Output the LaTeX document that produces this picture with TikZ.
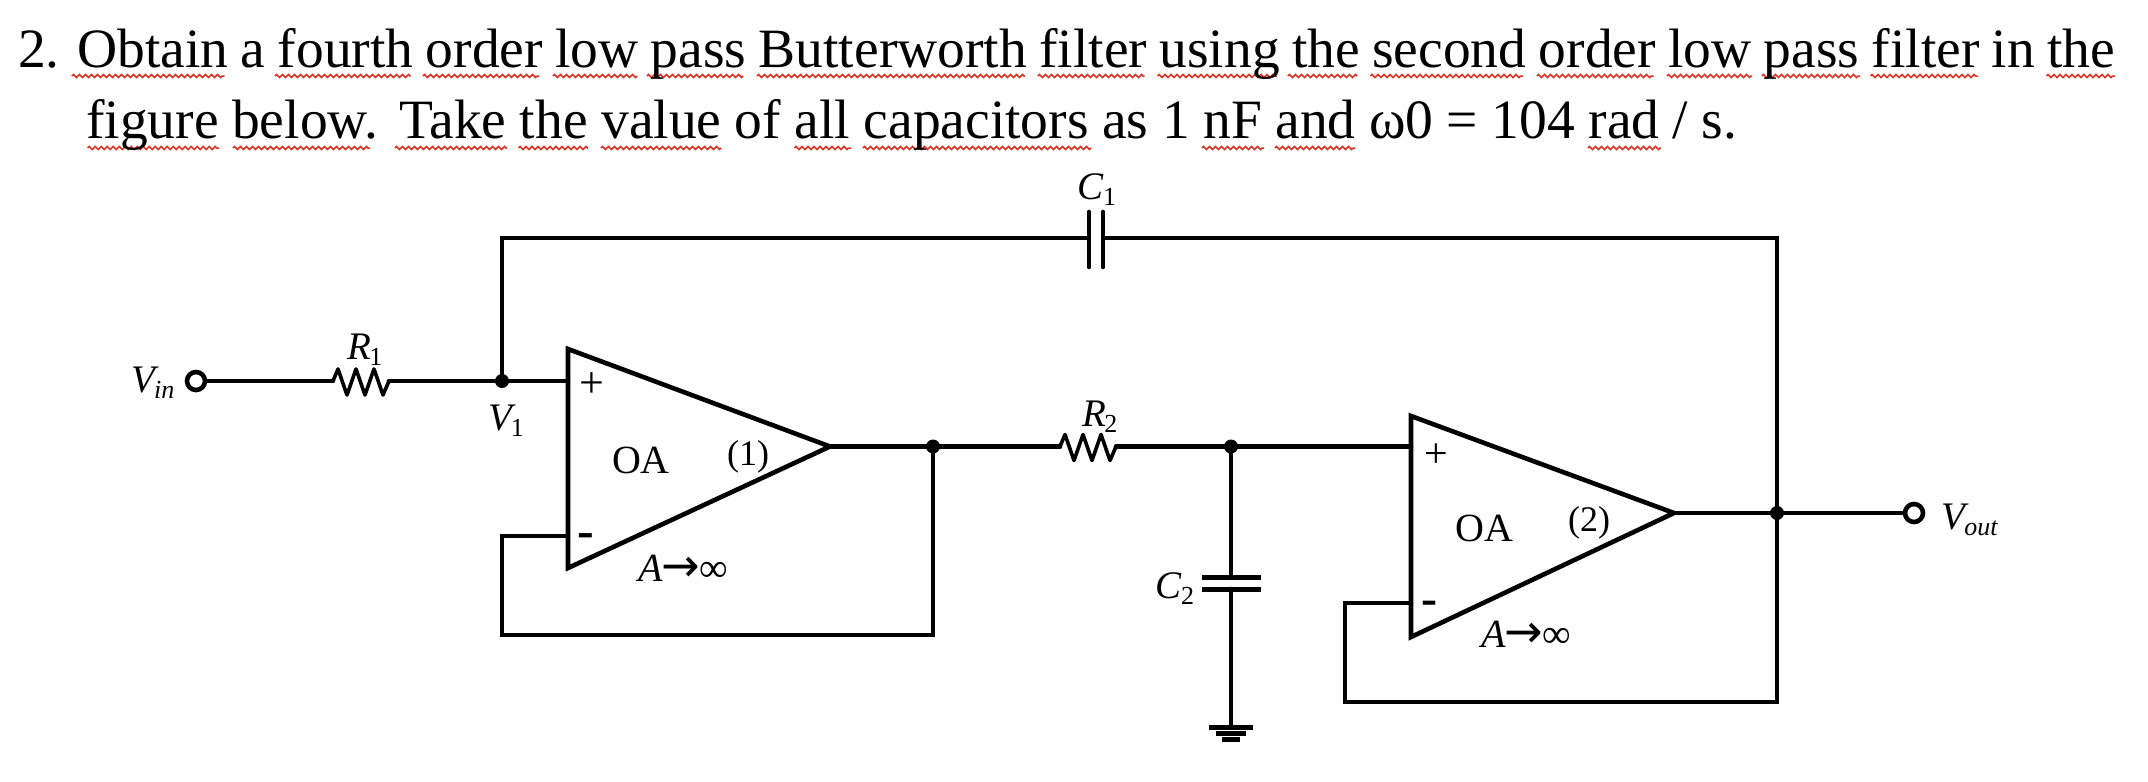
\documentclass[tikz,border=0pt]{standalone}
\usepackage{fontspec}
\setmainfont{Liberation Serif}
\newfontfamily\symfont{DejaVu Sans}
\usetikzlibrary{decorations.pathmorphing}
\definecolor{spell}{RGB}{225,50,35}
\newcommand{\lblsub}[3][-2pt]{\textit{#2}\kern#1\raisebox{-6pt}{\fontsize{26}{26}\selectfont #3}}
\newcommand{\gainlab}{\textit{A}\kern-1pt{\symfont\fontsize{46}{46}\selectfont →}\kern-1pt∞}
\tikzset{
  x=1pt,y=-1pt,
  wire/.style={line width=4.6pt,line cap=round,line join=miter},
  zigwire/.style={line width=3.6pt,line cap=round,line join=round},
  barwire/.style={line width=5pt,line cap=butt},
  dotnode/.style={circle,fill=black,inner sep=0pt,minimum size=14pt},
  term/.style={circle,draw=black,fill=white,line width=4.6pt,inner sep=0pt,minimum size=18pt},
  headline/.style={inner sep=0pt,anchor=base west,font=\fontsize{55.5}{55.5}\selectfont},
  lab/.style={inner sep=0pt,font=\fontsize{39}{39}\selectfont},
  squig/.style={draw=spell,line width=1.5pt,decorate,decoration={zigzag,amplitude=1.6pt,segment length=6pt}}
}
\begin{document}
\begin{tikzpicture}
\useasboundingbox (0,0) rectangle (2148,782);
\fill[white] (0,0) rectangle (2148,782);
% spelling marks
\foreach \a/\b in {72/224.5,275/410.5,423/539,553/637,647/743,757/1025,1038/1144.5,1157.5/1277,1288/1357,1370.5/1523,1537/1653.5,1667/1752,1762/1860,1870.5/1978,2046.5/2115}
  \draw[squig] (\a,76) -- (\b,76);
\foreach \a/\b in {87.7/219,233/370,395/507,518.5/588,601/721,794.5/851,863/1091,1202/1264,1275/1355,1588/1661}
  \draw[squig] (\a,148) -- (\b,148);
% headline
\node[headline] (l1) at (18,67) {\hbox to 2097pt{\spaceskip=12pt plus 12pt minus 10pt 2. Obtain a fourth order low pass Butterworth filter using the second order low pass filter in the}};
\node[headline] (l2) at (86,138) {\hbox to 1651pt{\spaceskip=12pt plus 12pt minus 10pt figure below. Take the value of all capacitors as 1 nF and ω0 = 104 rad / s.}};
% coordinates
\coordinate (vin) at (196,381);
\coordinate (j1) at (502,381);
\coordinate (r1a) at (333,381); \coordinate (r1b) at (389,381);
\coordinate (a1l) at (568,349); \coordinate (a1b) at (568,568); \coordinate (a1o) at (830,446.5);
\coordinate (j2) at (933,446.5);
\coordinate (r2a) at (1060,446.5); \coordinate (r2b) at (1116,446.5);
\coordinate (j3) at (1231,446.5);
\coordinate (a2t) at (1411,416); \coordinate (a2b) at (1411,637); \coordinate (a2o) at (1674,513);
\coordinate (j4) at (1777,513);
\coordinate (vout) at (1914,513);
% op amps
\draw[wire] (a1l) -- (a1o) -- (a1b) -- cycle;
\draw[wire] (a2t) -- (a2o) -- (a2b) -- cycle;
% input
\draw[wire] (vin) -- (r1a);
\draw[zigwire] (r1a) -- ++(5,-12) -- ++(9,26) -- ++(9,-26) -- ++(9,26) -- ++(9,-26) -- ++(9,26) -- (r1b);
\draw[wire] (r1b) -- (568,381);
% C1 loop
\draw[wire,line cap=butt] (j1) -- (502,238) -- (1089,238);
\draw[wire,line cap=butt] (1103,238) -- (1777,238) -- (j4);
\draw[wire] (1089,212) -- (1089,267);
\draw[wire] (1103,212) -- (1103,267);
% opamp 1 feedback
\draw[wire] (a1o) -- (r2a);
\draw[zigwire] (r2a) -- ++(5,-12) -- ++(9,26) -- ++(9,-26) -- ++(9,26) -- ++(9,-26) -- ++(9,26) -- (r2b);
\draw[wire] (r2b) -- (1411,446.5);
\draw[wire] (j2) -- (933,635) -- (502,635) -- (502,536) -- (568,536);
% C2 branch
\draw[wire] (j3) -- (1231,577);
\draw[wire] (1231,589) -- (1231,727);
\draw[barwire] (1202,577) -- (1261,577);
\draw[barwire] (1202,589) -- (1261,589);
\draw[barwire] (1209,727) -- (1253,727);
\draw[barwire] (1216,733.5) -- (1246,733.5);
\draw[barwire] (1222,739.5) -- (1240,739.5);
% opamp 2
\draw[wire] (a2o) -- (vout);
\draw[wire] (j4) -- (1777,702) -- (1345,702) -- (1345,603) -- (1411,603);
% dots & terminals
\node[dotnode] (d1) at (j1) {};
\node[dotnode] (d2) at (j2) {};
\node[dotnode] (d3) at (j3) {};
\node[dotnode] (d4) at (j4) {};
\node[term] (tin) at (vin) {};
\node[term] (tout) at (vout) {};
% labels
\node[lab] at (153,383) {\lblsub[-5pt]{V}{\textit{in}}};
\node[lab] at (365,350) {\lblsub[-2pt]{R}{1}};
\node[lab] at (506,421) {\lblsub[-5pt]{V}{1}};
\node[lab] at (1100,417) {\lblsub[-2pt]{R}{2}};
\node[lab] at (1097,190) {\lblsub[-1pt]{C}{1}};
\node[lab] at (1175,589) {\lblsub[-1pt]{C}{2}};
\node[lab] at (1970,520) {\lblsub[-5pt]{V}{\textit{out}}};
\node[lab,font=\fontsize{40}{40}\selectfont] at (641,460) {OA};
\node[lab,font=\fontsize{40}{40}\selectfont] at (1484,528) {OA};
\node[lab,font=\fontsize{36}{36}\selectfont] at (748,457) {(1)};
\node[lab,font=\fontsize{36}{36}\selectfont] at (1589,523) {(2)};
\node[lab,font=\fontsize{44}{44}\selectfont] at (592,385) {+};
\node[lab,font=\fontsize{42}{42}\selectfont] at (1436,456) {+};
\node[lab,font=\fontsize{50}{50}\selectfont\bfseries] at (586,541) {-};
\node[lab,font=\fontsize{48}{48}\selectfont\bfseries] at (1429,608) {-};
\node[lab,font=\fontsize{40}{40}\selectfont] at (683,568) {\gainlab};
\node[lab,font=\fontsize{40}{40}\selectfont] at (1526,634) {\gainlab};
\end{tikzpicture}
\end{document}
